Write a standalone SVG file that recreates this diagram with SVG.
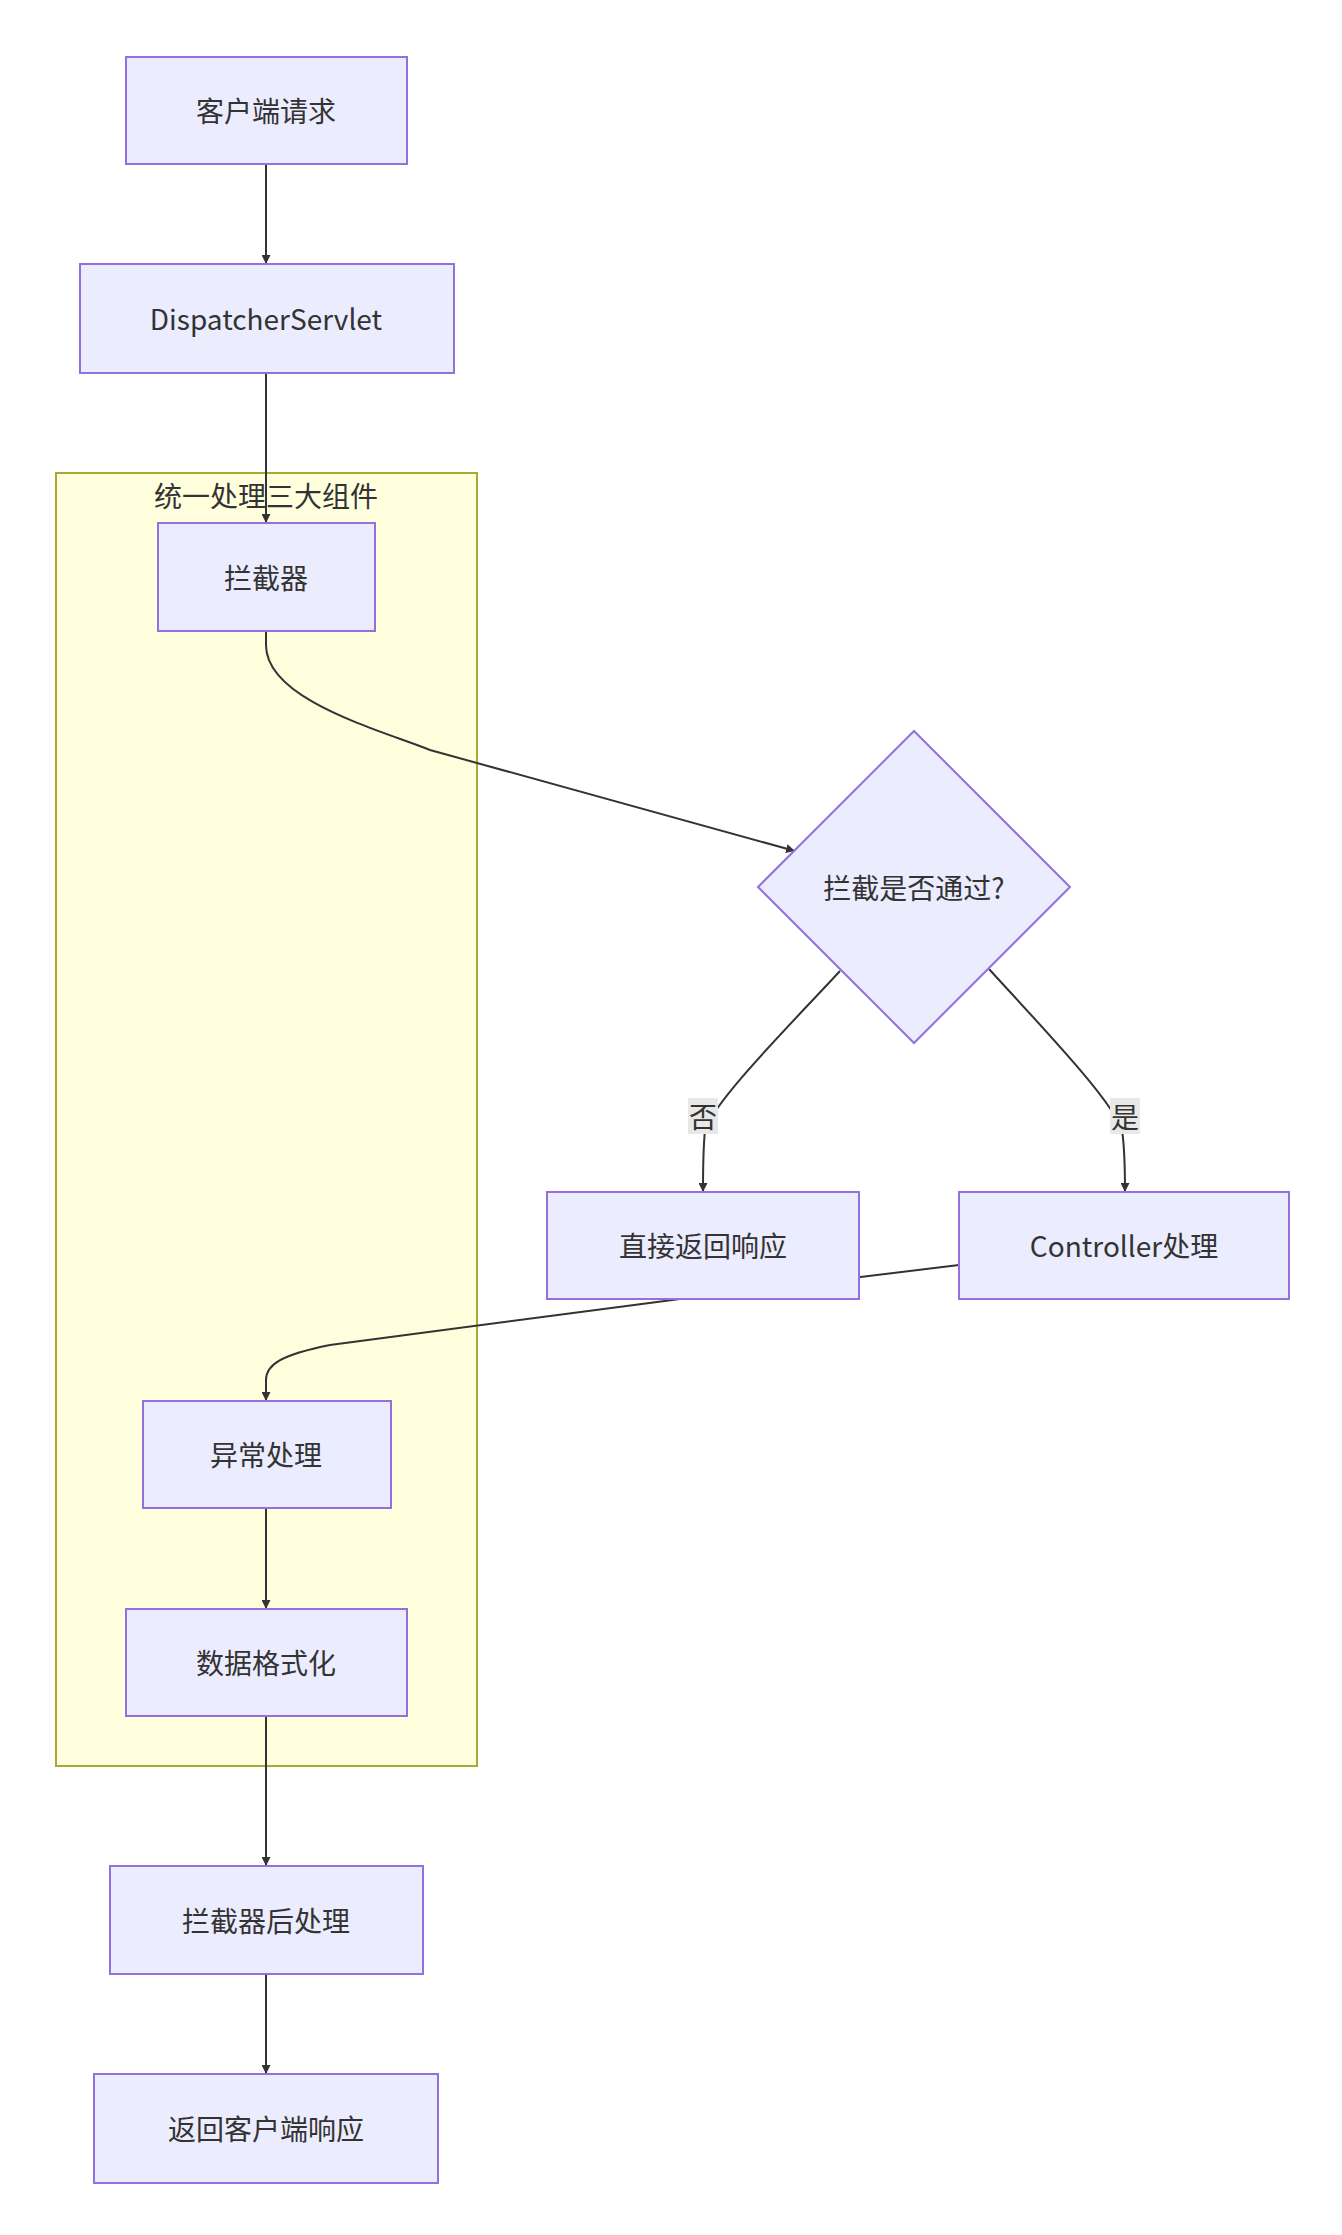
<svg xmlns="http://www.w3.org/2000/svg" width="1342" height="2235" viewBox="0 0 1342 2235">
<style>
.n{fill:#ECECFF;stroke:#9370DB;stroke-width:2}
.t{font-family:"Noto Sans CJK SC","Noto Sans",sans-serif;font-size:28px;fill:#333;text-anchor:middle;dominant-baseline:central}
.e{fill:none;stroke:#333;stroke-width:2}
</style>
<defs><marker id="a" viewBox="0 0 10 10" refX="10" refY="5" markerWidth="9" markerHeight="9" markerUnits="userSpaceOnUse" orient="auto"><path d="M0,0L10,5L0,10z" fill="#333"/></marker></defs>
<rect width="1342" height="2235" fill="#fff"/>
<g id="cluster"><rect x="56" y="473" width="421" height="1293" fill="#FFFFDE" stroke="#AAAA33" stroke-width="2"/><text class="t" x="266" y="495">统一处理三大组件</text></g>
<g id="edges">
<path class="e" marker-end="url(#a)" d="M266,164L266,264"/>
<path class="e" marker-end="url(#a)" d="M266,373L266,523"/>
<path class="e" marker-end="url(#a)" d="M266,631L266,645C266,700 380,730 430,750L795,851"/>
<path class="e" marker-end="url(#a)" d="M840,971C790,1025 715,1100 705,1130C703,1150 703,1175 703,1192"/>
<path class="e" marker-end="url(#a)" d="M989,969C1040,1025 1112,1100 1122,1130C1125,1150 1125,1175 1125,1192"/>
<path class="e" marker-end="url(#a)" d="M680,1299L330,1345C280,1355 266,1365 266,1380L266,1401"/>
<path class="e" d="M959,1265L680,1299"/>
<path class="e" marker-end="url(#a)" d="M266,1508L266,1609"/>
<path class="e" marker-end="url(#a)" d="M266,1716L266,1866"/>
<path class="e" marker-end="url(#a)" d="M266,1974L266,2074"/>
</g>
<g id="n1"><rect class="n" x="126" y="57" width="281" height="107"/><text class="t" x="266" y="110">客户端请求</text></g>
<g id="n2"><rect class="n" x="80" y="264" width="374" height="109"/><text class="t" x="266" y="318">DispatcherServlet</text></g>
<g id="n3"><rect class="n" x="158" y="523" width="217" height="108"/><text class="t" x="266" y="577">拦截器</text></g>
<g id="n4"><polygon class="n" points="914,731 1070,887 914,1043 758,887"/><text class="t" x="914" y="887">拦截是否通过?</text></g>
<g id="n5"><rect class="n" x="547" y="1192" width="312" height="107"/><text class="t" x="703" y="1245">直接返回响应</text></g>
<g id="n6"><rect class="n" x="959" y="1192" width="330" height="107"/><text class="t" x="1124" y="1245">Controller处理</text></g>
<g id="n7"><rect class="n" x="143" y="1401" width="248" height="107"/><text class="t" x="266" y="1454">异常处理</text></g>
<g id="n8"><rect class="n" x="126" y="1609" width="281" height="107"/><text class="t" x="266" y="1662">数据格式化</text></g>
<g id="n9"><rect class="n" x="110" y="1866" width="313" height="108"/><text class="t" x="266" y="1920">拦截器后处理</text></g>
<g id="n10"><rect class="n" x="94" y="2074" width="344" height="109"/><text class="t" x="266" y="2128">返回客户端响应</text></g>
<g id="labels">
<rect x="688" y="1098" width="30" height="36" fill="#E8E8E8"/><text class="t" x="703" y="1116">否</text>
<rect x="1110" y="1098" width="30" height="36" fill="#E8E8E8"/><text class="t" x="1125" y="1116">是</text>
</g>
</svg>
